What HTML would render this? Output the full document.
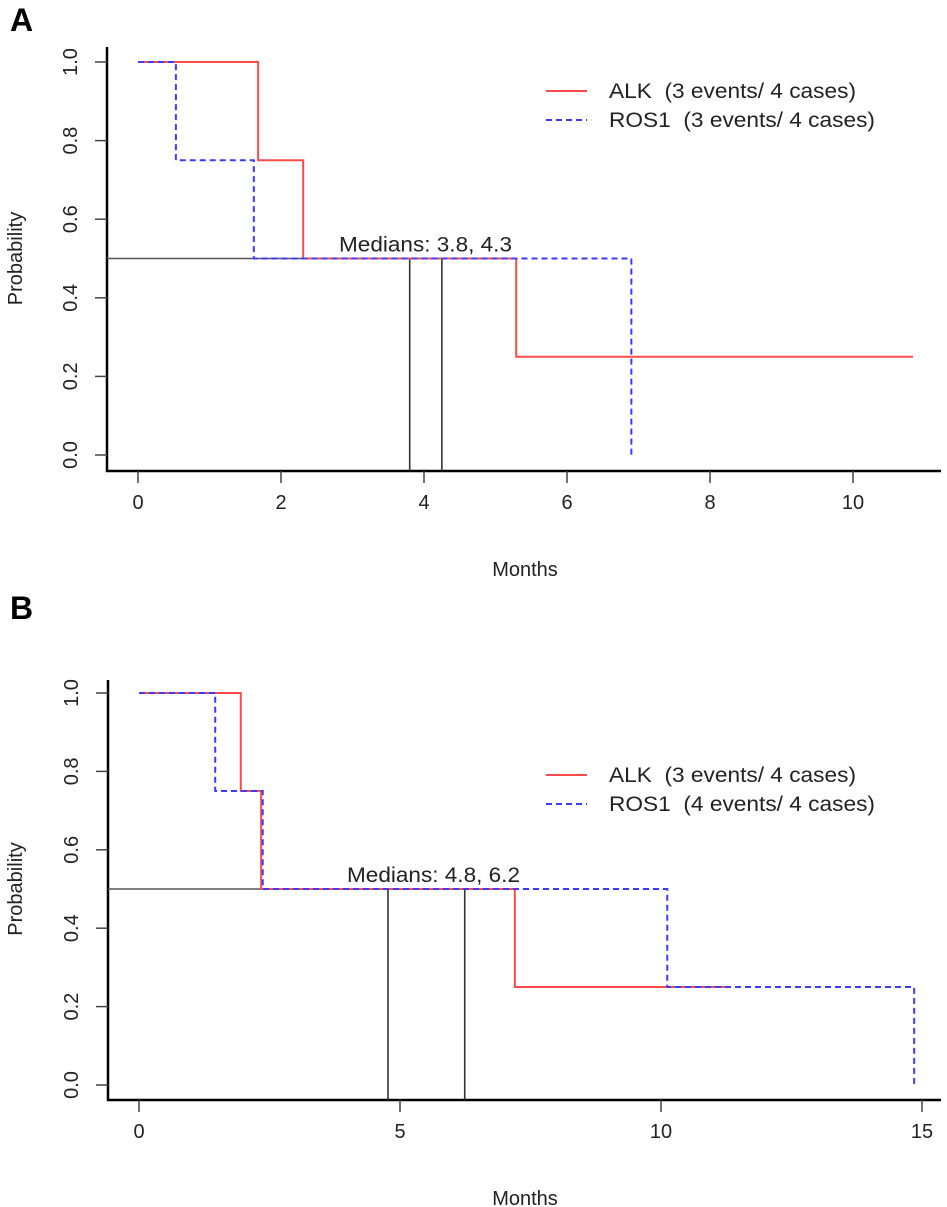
<!DOCTYPE html>
<html><head><meta charset="utf-8"><style>
html,body{margin:0;padding:0;background:#fff;}
svg{display:block;font-family:"Liberation Sans",Arial,sans-serif;}
text{white-space:pre;}
</style></head><body>
<svg id="fig" width="947" height="1207" viewBox="0 0 947 1207"></svg>
<script>
// Panel A data
const aTicksX = [0, 2, 4, 6, 8, 10];
const aAlkTimes = [0, 1.68, 2.31, 5.29, 10.84];
const aAlkSurv = [1.0, 0.75, 0.5, 0.25];
const aRosTimes = [0, 0.53, 1.62, 6.90];
const aRosSurv = [1.0, 0.75, 0.5, 0.0];
const aMedians = [3.80, 4.25];
const aLegend = ["ALK  (3 events/ 4 cases)", "ROS1  (3 events/ 4 cases)"];
const aMedianLabel = "Medians: 3.8, 4.3";
// Panel B data
const bTicksX = [0, 5, 10, 15];
const bAlkTimes = [0, 1.95, 2.34, 7.20, 11.25];
const bAlkSurv = [1.0, 0.75, 0.5, 0.25];
const bRosTimes = [0, 1.46, 2.37, 10.12, 14.85];
const bRosSurv = [1.0, 0.75, 0.5, 0.25, 0.0];
const bMedians = [4.77, 6.24];
const bLegend = ["ALK  (3 events/ 4 cases)", "ROS1  (4 events/ 4 cases)"];
const bMedianLabel = "Medians: 4.8, 6.2";
const yTicks = [0.0, 0.2, 0.4, 0.6, 0.8, 1.0];

const NS = "http://www.w3.org/2000/svg";
const svg = document.getElementById('fig');
function el(tag, attrs, parent) {
  const e = document.createElementNS(NS, tag);
  for (const k in attrs) e.setAttribute(k, attrs[k]);
  (parent || svg).appendChild(e);
  return e;
}

function panel(cfg) {
  const g = el('g', {});
  
  
  const X = v => cfg.x0 + v * cfg.pxPerX;
  const Y = v => cfg.y0 - v * cfg.pxPerY;
  const L = el('text', {x: 10, y: cfg.letterY, 'font-size': 32, 'font-weight': 'bold', fill: '#000'}, g);
  L.textContent = cfg.letter;
  
  
  const ax = el('path', {d: `M${cfg.axL},${cfg.axTop} V${cfg.axB} H941`, stroke: '#000', 'stroke-width': 2.5, fill: 'none'}, g);
  
  
  cfg.yTicks.forEach(t => {
    const tl = el('line', {x1: cfg.axL - 12, x2: cfg.axL, y1: Y(t), y2: Y(t), stroke: '#444', 'stroke-width': 1.5}, g);
    
    
    const tx = el('text', {x: 0, y: 0, 'font-size': 20, fill: '#222', 'text-anchor': 'middle',
      transform: `translate(${cfg.axL - 30},${Y(t)}) rotate(-90)`}, g);
    tx.textContent = t.toFixed(1);
    
    
  });
  cfg.xTicks.forEach(t => {
    const tl = el('line', {x1: X(t), x2: X(t), y1: cfg.axB, y2: cfg.axB + 12, stroke: '#444', 'stroke-width': 1.5}, g);
    
    
    const tx = el('text', {x: X(t), y: cfg.axB + 38, 'font-size': 20, fill: '#222', 'text-anchor': 'middle'}, g);
    tx.textContent = t;
    
    
  });
  const xt = el('text', {x: 525, y: cfg.axB + 105, 'font-size': 20, fill: '#222', 'text-anchor': 'middle'}, g);
  xt.textContent = 'Months';
  
  
  const yt = el('text', {x: 0, y: 0, 'font-size': 20, fill: '#222', 'text-anchor': 'middle',
    transform: `translate(22,${Y(0.5)}) rotate(-90)`}, g);
  yt.textContent = 'Probability';
  
  
  const mMax = Math.max(...cfg.medians);
  const mh = el('line', {x1: cfg.axL, x2: X(mMax), y1: Y(0.5), y2: Y(0.5), stroke: '#555', 'stroke-width': 1.6}, g);
  
  
  cfg.medians.forEach(m => {
    const mv = el('line', {x1: X(m), x2: X(m), y1: Y(0.5), y2: cfg.axB, stroke: '#333', 'stroke-width': 1.6}, g);
    
    
  });
  const mt = el('text', {x: cfg.medTextX, y: Y(0.5) - 7, 'font-size': 21, fill: '#222', textLength: 173, lengthAdjust: 'spacingAndGlyphs'}, g);
  mt.textContent = cfg.medianLabel;
  
  
  function step(times, surv, color, dash, name) {
    let d = `M${X(times[0])},${Y(surv[0])}`;
    for (let i = 1; i < times.length; i++) {
      d += ` H${X(times[i])}`;
      if (i < surv.length) d += ` V${Y(surv[i])}`;
    }
    const p = el('path', {d, stroke: color, 'stroke-width': 2, fill: 'none'}, g);
    if (dash) p.setAttribute('stroke-dasharray', '6,4');
    
    
  }
  step(cfg.alkT, cfg.alkS, '#ff4a4a', false, 'alk-curve');
  step(cfg.rosT, cfg.rosS, '#3b3bff', true, 'ros1-curve');
  [['#ff4a4a', false, 247], ['#3b3bff', true, 266]].forEach((s, i) => {
    const ly = cfg.legY + i * 29;
    const ll = el('line', {x1: 546, x2: 587, y1: ly, y2: ly, stroke: s[0], 'stroke-width': 2}, g);
    if (s[1]) ll.setAttribute('stroke-dasharray', '6,4');
    
    
    const lt = el('text', {x: 609, y: ly + 7, 'font-size': 21, fill: '#222', textLength: s[2], lengthAdjust: 'spacingAndGlyphs'}, g);
    lt.textContent = cfg.legend[i];
    
    
  });
}

panel({name: 'panel-a', letter: 'A', letterY: 31, x0: 138, pxPerX: 71.5, y0: 455, pxPerY: 393,
  axL: 107, axTop: 47, axB: 471, xTicks: aTicksX, yTicks: yTicks, medians: aMedians,
  medianLabel: aMedianLabel, medTextX: 339, alkT: aAlkTimes, alkS: aAlkSurv, rosT: aRosTimes, rosS: aRosSurv,
  legY: 91, legend: aLegend});
panel({name: 'panel-b', letter: 'B', letterY: 619, x0: 139, pxPerX: 52.2, y0: 1085, pxPerY: 392,
  axL: 108, axTop: 680, axB: 1100, xTicks: bTicksX, yTicks: yTicks, medians: bMedians,
  medianLabel: bMedianLabel, medTextX: 347, alkT: bAlkTimes, alkS: bAlkSurv, rosT: bRosTimes, rosS: bRosSurv,
  legY: 775, legend: bLegend});
</script>
</body></html>
